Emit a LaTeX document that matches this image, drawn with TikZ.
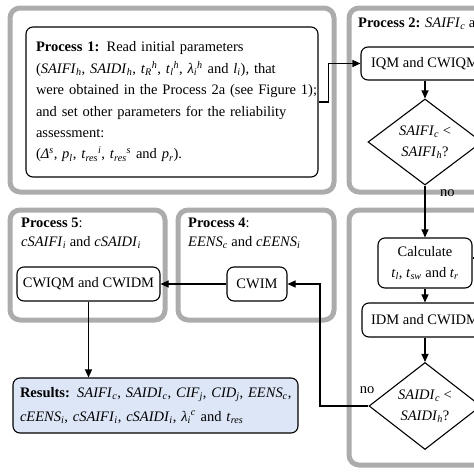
\documentclass[tikz,border=0pt]{standalone}
\usepackage{fontspec}
\setmainfont{Liberation Serif}
\usetikzlibrary{calc,shapes.geometric,arrows.meta}

\definecolor{framegray}{RGB}{172,172,172}
\definecolor{resblue}{RGB}{220,230,246}
\newcommand{\subvar}[2]{\textit{#1}\textsubscript{\textit{#2}}}

\begin{document}
\begin{tikzpicture}[x=1pt,y=-1pt,
  font=\fontsize{14.5}{21.4}\selectfont,
  frame/.style={draw=framegray, line width=5pt, rounded corners=10pt},
  box/.style={draw, line width=1.1pt, rounded corners=7pt, align=center, inner sep=0pt},
  cond/.style={diamond, draw, line width=1.1pt, aspect=1.3, inner sep=0pt, align=center},
  arr/.style={-{Triangle[length=8pt,width=7pt]}, line width=1.1pt},
  lbl/.style={inner sep=0pt}]
  \useasboundingbox (0,0) rectangle (474,474);
  \clip (0,0) rectangle (474,474);

  % process frames
  \draw[frame] (10,8) rectangle (334,192);
  \draw[frame] (349,8) rectangle (600,192);
  \draw[frame] (10,210) rectangle (165,320);
  \draw[frame] (178,210) rectangle (334,320);
  \draw[frame] (349,210) rectangle (600,465);

  \node[lbl, anchor=base west] (t2) at (358,27) {\textbf{Process 2:} \subvar{SAIFI}{c} and};
  \node[lbl, anchor=base west] (t5) at (21,227) {\textbf{Process 5}:};
  \node[lbl, anchor=base west] (t5b) at (21,246) {\subvar{cSAIFI}{i} and \subvar{cSAIDI}{i}};
  \node[lbl, anchor=base west] (t4) at (188,227) {\textbf{Process 4}:};
  \node[lbl, anchor=base west] (t4b) at (188,246) {\subvar{EENS}{c} and \subvar{cEENS}{i}};

  \node[box, align=left, inner xsep=10pt, minimum width=292pt, minimum height=150pt, text width=272pt] (p1) at (172,102) {%
    \textbf{Process 1:} Read initial parameters\\
    \mbox{(\subvar{SAIFI}{h}, \subvar{SAIDI}{h}, \subvar{t}{R}\textsuperscript{\textit{h}}, \subvar{t}{l}\textsuperscript{\textit{h}}, \subvar{λ}{i}\textsuperscript{\textit{h}} and \subvar{l}{i}), that}\\
    \mbox{were obtained in the Process 2a (see Figure 1);}\\
    \mbox{and set other parameters for the reliability}\\
    assessment:\\
    (\textit{Δ}\textsuperscript{\textit{s}}, \subvar{p}{l}, \subvar{t}{res}\textsuperscript{\textit{i}}, \subvar{t}{res}\textsuperscript{\textit{s}} and \subvar{p}{r}).};

  \node[box, minimum width=128pt, minimum height=33pt] (iqm) at (425,63.5) {IQM and CWIQM};
  \node[cond, minimum width=114pt, minimum height=86pt] (d1) at (425,142) {\subvar{SAIFI}{c} <\\ \subvar{SAIFI}{h}?};
  \node[box, minimum width=94pt, minimum height=50pt] (calc) at (425,263) {Calculate\\ \subvar{t}{l}, \subvar{t}{sw} and \subvar{t}{r}};
  \node[box, minimum width=126pt, minimum height=34pt] (idm) at (425,320) {IDM and CWIDM};
  \node[cond, minimum width=112pt, minimum height=87pt] (d2) at (425,406) {\subvar{SAIDI}{c} <\\ \subvar{SAIDI}{h}?};
  \node[box, minimum width=60pt, minimum height=34pt] (cwim) at (257,284) {CWIM};
  \node[box, minimum width=143pt, minimum height=34pt] (cwiqm) at (88.5,284) {CWIQM and CWIDM};
  \node[box, fill=resblue, align=left, inner xsep=7pt, minimum width=285pt, minimum height=55pt, text width=271pt] (res) at (155.5,405.5) {%
    \mbox{\textbf{Results:} \subvar{SAIFI}{c}, \subvar{SAIDI}{c}, \subvar{CIF}{j}, \subvar{CID}{j}, \subvar{EENS}{c},}\\[2pt]
    \mbox{\subvar{cEENS}{i}, \subvar{cSAIFI}{i}, \subvar{cSAIDI}{i}, \subvar{λ}{i}\textsuperscript{\textit{c}} and \subvar{t}{res}}};

  \coordinate (off) at (500,258);
  \coordinate (bend) at (320,284);

  \draw[arr] (p1.east) -- ++(10,0) |- (iqm.west);
  \draw[arr] (iqm.south) -- (d1.north);
  \draw[arr] (d1.south) -- (calc.north);
  \node[lbl, anchor=west] (no1) at ($(d1.south)+(15,8)$) {no};
  \draw[arr] (calc.south) -- (idm.north);
  \draw[line width=1.1pt] (calc.east |- off) -- (off);
  \draw[arr] (idm.south) -- (d2.north);
  \draw[arr] (d2.west) -| (bend) -- (cwim.east);
  \node[lbl, anchor=east] (no2) at ($(d2.west)+(6,-16)$) {no};
  \draw[arr] (cwim.west) -- (cwiqm.east);
  \draw[arr] (cwiqm.south) -- (cwiqm.south |- res.north);
\end{tikzpicture}
\end{document}
